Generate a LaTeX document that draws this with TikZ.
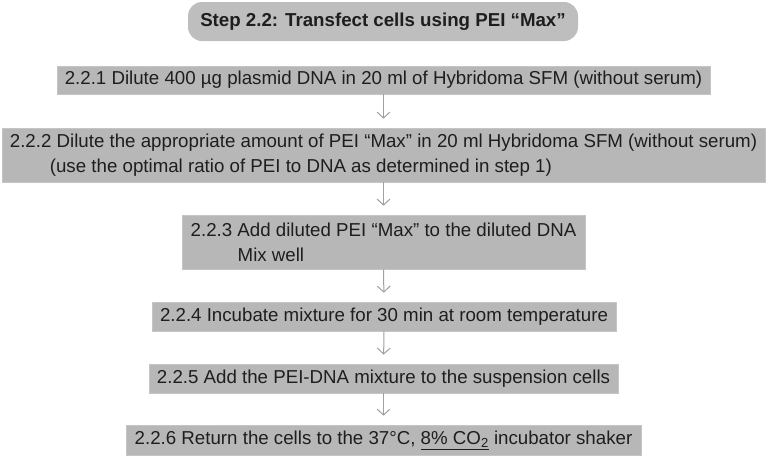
\documentclass[tikz,border=0pt]{standalone}
\usepackage{fontspec}
\setmainfont{Liberation Sans}
\usetikzlibrary{arrows.meta}
\definecolor{boxfill}{RGB}{183,183,183}
\definecolor{titlefill}{RGB}{190,190,190}
\definecolor{txt}{RGB}{30,30,30}
\definecolor{arrowgray}{RGB}{160,160,160}
\begin{document}
\begin{tikzpicture}[x=1pt,y=-1pt,
  stepbox/.style={fill=boxfill, draw=boxfill!80!white, line width=0.6pt, inner sep=0pt, align=left,
    text=txt, font=\fontsize{18.7}{25}\selectfont},
  titlebox/.style={fill=titlefill, rounded corners=14pt, inner sep=0pt,
    text=txt, font=\fontsize{18.7}{25}\selectfont\bfseries},
  flowarrow/.style={draw=arrowgray, line width=1pt, -{Straight Barb[length=6pt,width=13pt]}, shorten >=9pt}]
\useasboundingbox (0,0) rectangle (768,456);
\node[titlebox, minimum width=390pt, minimum height=39pt] (t) at (383,21.5) {Step 2.2: Transfect cells using PEI “Max”};
\node[stepbox, minimum width=653pt, minimum height=28pt] (b1) at (383.5,80) {2.2.1 Dilute 400 µg plasmid DNA in 20 ml of Hybridoma SFM (without serum)};
\node[stepbox, minimum width=763pt, minimum height=54pt] (b2) at (383.5,155) {2.2.2 Dilute the appropriate amount of PEI “Max” in 20 ml Hybridoma SFM (without serum)\\\hspace*{40pt}(use the optimal ratio of PEI to DNA as determined in step 1)};
\node[stepbox, minimum width=403pt, minimum height=54pt] (b3) at (383.5,242) {2.2.3 Add diluted PEI “Max” to the diluted DNA\\\hspace*{47pt}Mix well};
\node[stepbox, minimum width=464pt, minimum height=29pt] (b4) at (384,316.5) {2.2.4 Incubate mixture for 30 min at room temperature};
\node[stepbox, minimum width=469pt, minimum height=29pt] (b5) at (383.5,378.5) {2.2.5 Add the PEI-DNA mixture to the suspension cells};
\node[stepbox, minimum width=515pt, minimum height=30pt] (b6) at (383.5,440) {2.2.6 Return the cells to the 37°C, \underline{8\% CO\textsubscript{2}} incubator shaker};
\draw[flowarrow] (b1.south) -- (b2.north);
\draw[flowarrow] (b2.south) -- (b3.north);
\draw[flowarrow] (b3.south) -- (b4.north);
\draw[flowarrow] (b4.south) -- (b5.north);
\draw[flowarrow] (b5.south) -- (b6.north);
\end{tikzpicture}
\end{document}
